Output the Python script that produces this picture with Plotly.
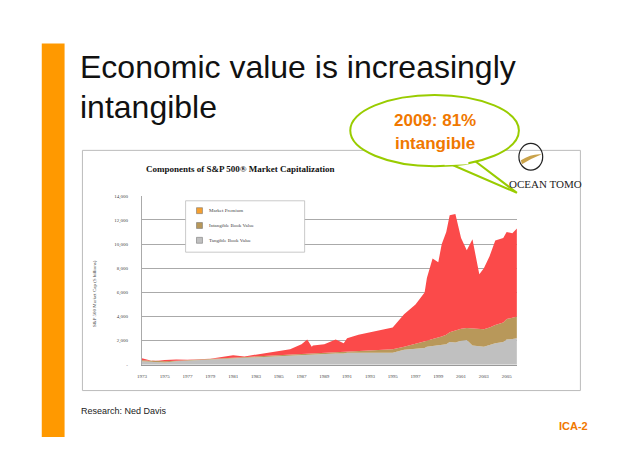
import plotly.graph_objects as go

W, H = 622, 435
def px(x): return (x - 8) / W
def py(y): return 1 - (y - 8) / H

years = [1973, 1974, 1975, 1976, 1977, 1978, 1979, 1980, 1981, 1982, 1983, 1984, 1985, 1986,
         1987, 1987.5, 1987.9, 1988, 1989, 1990, 1990.7, 1991, 1992, 1993, 1994, 1995, 1996,
         1997, 1997.8, 1998, 1998.5, 1999, 1999.3, 1999.7, 2000, 2000.5, 2001, 2001.5, 2002,
         2002.6, 2003, 2003.5, 2004, 2004.7, 2005, 2005.5, 2005.9]
total = [550, 300, 400, 450, 430, 450, 500, 650, 800, 700, 850, 1000, 1100, 1300,
         1700, 2100, 1500, 1600, 1700, 2100, 1800, 2200, 2500, 2700, 2900, 3100, 4200,
         5000, 6000, 7200, 8800, 8500, 10000, 11000, 12400, 12500, 10500, 9500, 10400,
         7500, 8000, 9000, 10300, 10500, 11000, 10900, 11300]
intangible_top = [380, 320, 300, 350, 400, 430, 470, 550, 600, 620, 680, 720, 800, 830,
                  870, 900, 920, 950, 1000, 1050, 1050, 1100, 1150, 1200, 1250, 1300, 1500,
                  1750, 1900, 2000, 2150, 2250, 2350, 2500, 2700, 2850, 3000, 3050, 3000,
                  2950, 2950, 3100, 3300, 3500, 3800, 3900, 4000]
tangible = [300, 250, 200, 300, 350, 400, 450, 500, 550, 600, 650, 700, 750, 780,
            820, 850, 850, 870, 900, 950, 950, 1000, 1000, 1000, 1000, 1000, 1250,
            1300, 1400, 1500, 1550, 1600, 1650, 1700, 1900, 1850, 2000, 2050, 1600,
            1550, 1500, 1650, 1800, 1900, 2100, 2150, 2200]
x_ticks = list(range(1973, 2006, 2))
y_ticks = [0, 2000, 4000, 6000, 8000, 10000, 12000, 14000]
y_labels = ["-", "2,000", "4,000", "6,000", "8,000", "10,000", "12,000", "14,000"]

fig = go.Figure()
fig.add_trace(go.Scatter(x=years, y=tangible, mode="lines", line=dict(width=0),
                         fill="tozeroy", fillcolor="#c0c0c0", name="Tangible Book Value"))
fig.add_trace(go.Scatter(x=years, y=intangible_top, mode="lines", line=dict(width=0),
                         fill="tonexty", fillcolor="#b8985a", name="Intangible Book Value"))
fig.add_trace(go.Scatter(x=years, y=total, mode="lines", line=dict(width=0),
                         fill="tonexty", fillcolor="#fb4a4a", name="Market Premium"))

serif = "Liberation Serif"
fig.update_layout(
    width=W, height=H, margin=dict(l=0, r=0, t=0, b=0),
    paper_bgcolor="white", plot_bgcolor="white", showlegend=False,
    xaxis=dict(domain=[px(138), px(516)], range=[1973, 2005.9], tickvals=x_ticks,
               ticktext=[str(t) for t in x_ticks], tickfont=dict(family=serif, size=5, color="#444"),
               showgrid=False, zeroline=False, showline=True, linecolor="#999", ticks="",
               ticklabelstandoff=6),
    yaxis=dict(domain=[py(367), py(196)], range=[0, 14000], tickvals=y_ticks, ticktext=y_labels,
               tickfont=dict(family=serif, size=5, color="#444"), showgrid=True, gridcolor="#aaa",
               gridwidth=0.7, zeroline=False, showline=True, linecolor="#aaa", ticks="",
               ticklabelstandoff=12),
)

P = dict(xref="paper", yref="paper")
shapes = [
    dict(type="rect", x0=px(37), x1=px(60), y0=py(440), y1=py(42), fillcolor="#ff9900", line=dict(width=0)),
    dict(type="rect", x0=px(78), x1=px(580), y0=py(393), y1=py(150), line=dict(color="#bbb", width=1)),
    dict(type="rect", x0=px(182), x1=px(302), y0=py(253), y1=py(201), line=dict(color="#bbb", width=0.8), fillcolor="white"),
    dict(type="rect", x0=px(193), x1=px(199), y0=py(214), y1=py(208), fillcolor="#f5a030", line=dict(color="#666", width=0.5)),
    dict(type="rect", x0=px(193), x1=px(199), y0=py(229), y1=py(223), fillcolor="#b8985a", line=dict(color="#666", width=0.5)),
    dict(type="rect", x0=px(193), x1=px(199), y0=py(244), y1=py(238), fillcolor="#c0c0c0", line=dict(color="#666", width=0.5)),
    dict(type="path", path=f"M {px(440)} {py(160)} L {px(516)} {py(193)} L {px(470)} {py(158)} Z",
         fillcolor="white", line=dict(color="#99cc00", width=2)),
    dict(type="circle", x0=px(348), x1=px(518), y0=py(166), y1=py(94), fillcolor="white",
         line=dict(color="#99cc00", width=2)),
    dict(type="path", path=f"M {px(443)} {py(163)} L {px(467)} {py(162)}",
         line=dict(color="white", width=4)),
    dict(type="circle", x0=px(518), x1=px(542), y0=py(170), y1=py(143), line=dict(color="#222", width=1.2)),
    dict(type="path", path=f"M {px(520)} {py(160)} Q {px(531)} {py(153)} {px(541)} {py(154)} Q {px(531)} {py(158)} {px(521)} {py(164)} Z",
         fillcolor="#c9a24a", line=dict(width=0)),
]
for s in shapes:
    s.update(P)

ann = [
    dict(x=px(74), y=py(66), text="Economic value is increasingly", font=dict(family="Liberation Sans", size=32, color="#111")),
    dict(x=px(74), y=py(106), text="intangible", font=dict(family="Liberation Sans", size=32, color="#111")),
    dict(x=px(433), y=py(120), text="<b>2009: 81%</b>", font=dict(family="Liberation Sans", size=17, color="#f07800"), xanchor="center"),
    dict(x=px(433), y=py(143), text="<b>intangible</b>", font=dict(family="Liberation Sans", size=17, color="#f07800"), xanchor="center"),
    dict(x=px(237), y=py(169), text="<b>Components of S&P 500® Market Capitalization</b>", font=dict(family=serif, size=9, color="#111"), xanchor="center"),
    dict(x=px(545), y=py(184), text="OCEAN TOMO", font=dict(family=serif, size=11, color="#222"), xanchor="center"),
    dict(x=px(204), y=py(211), text="Market Premium", font=dict(family=serif, size=5, color="#444")),
    dict(x=px(204), y=py(226), text="Intangible Book Value", font=dict(family=serif, size=5, color="#444")),
    dict(x=px(204), y=py(241), text="Tangible Book Value", font=dict(family=serif, size=5, color="#444")),
    dict(x=px(90), y=py(295), text="S&P 500 Market Cap ($ billions)", textangle=-90, font=dict(family=serif, size=5, color="#444"), xanchor="center"),
    dict(x=px(75), y=py(414), text="Research: Ned Davis", font=dict(family="Liberation Sans", size=9, color="#222")),
    dict(x=px(590), y=py(429), text="<b>ICA-2</b>", font=dict(family="Liberation Sans", size=11, color="#f07800"), xanchor="right"),
]
for a in ann:
    a.setdefault("xanchor", "left")
    a.update(xref="paper", yref="paper", showarrow=False, yanchor="middle")
fig.update_layout(shapes=shapes, annotations=ann)
fig.write_html("out.html")
